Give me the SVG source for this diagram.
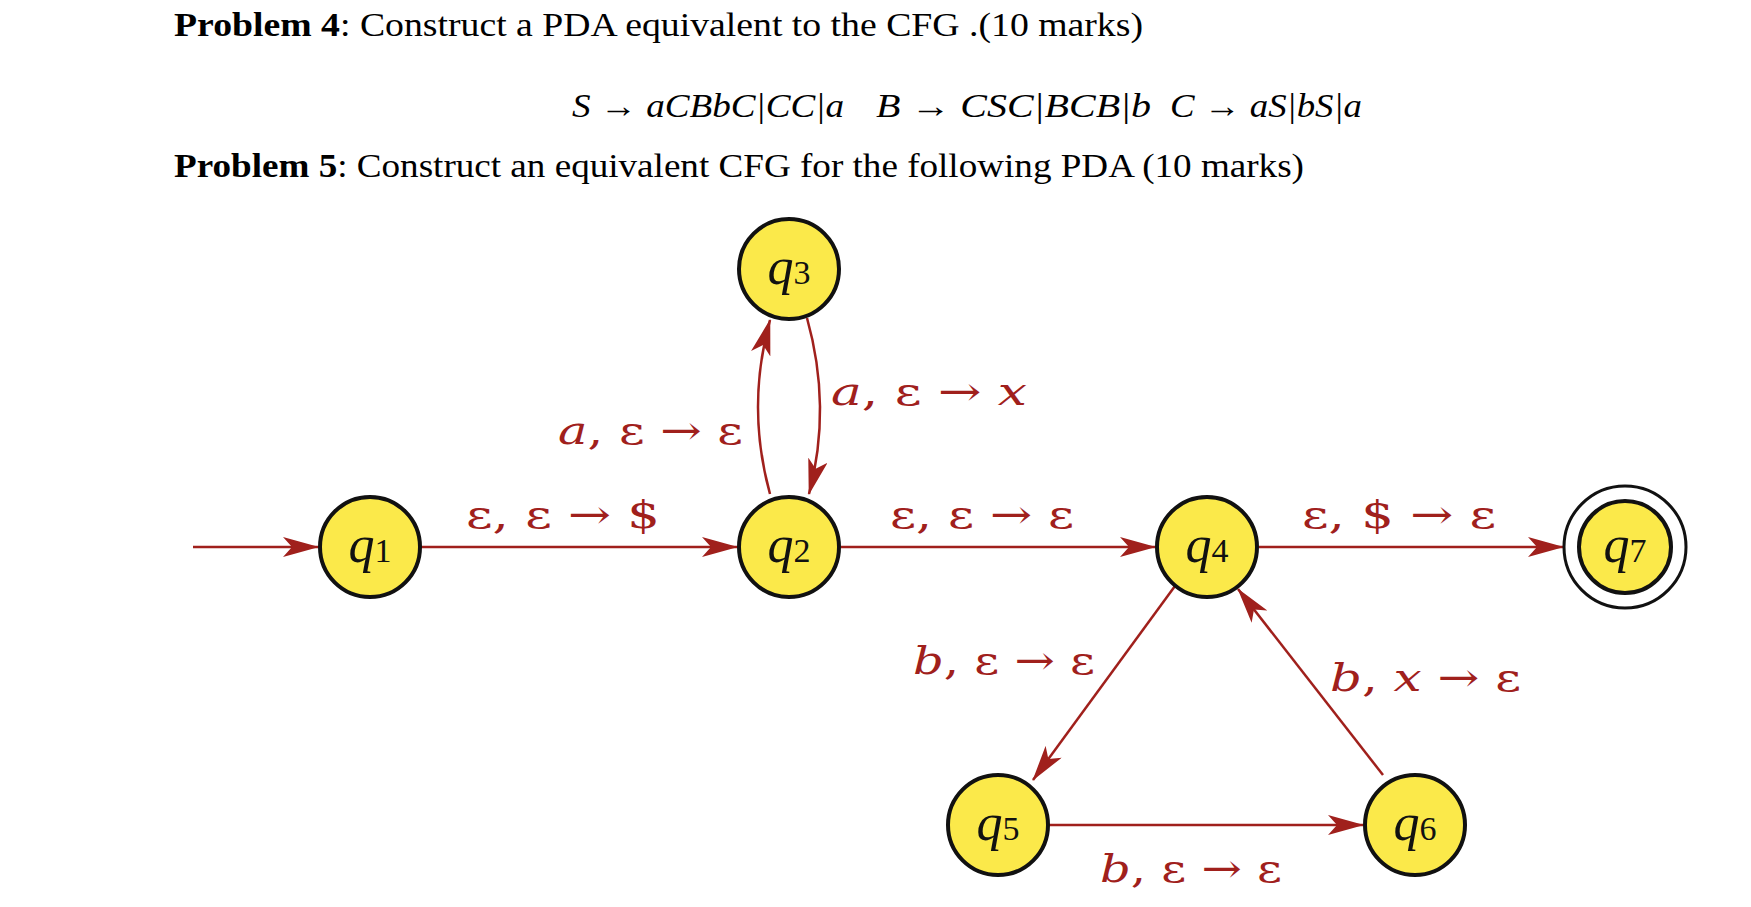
<svg xmlns="http://www.w3.org/2000/svg" width="1751" height="907" viewBox="0 0 1751 907">
<style>
.h{font-family:"Liberation Serif",serif;font-size:33px;fill:#000}
.n circle{fill:#fbe94a;stroke:#111;stroke-width:4}
.n text{font-family:"Liberation Serif",serif;font-style:italic;font-size:52px;fill:#111;text-anchor:middle}
.e{stroke:#a0201c;stroke-width:2.5;fill:none;marker-end:url(#ah)}
.l{font-family:"DejaVu Serif",serif;font-size:40px;fill:#a0201c}
</style>
<defs><marker id="ah" viewBox="0 0 36 20" refX="35" refY="10" markerWidth="36" markerHeight="20" markerUnits="userSpaceOnUse" orient="auto"><path d="M0,0 L36,10 L0,20 L9,10 Z" fill="#a0201c"/></marker></defs>
<rect width="1751" height="907" fill="#fff"/>
<text class="h" x="174" y="36" textLength="969" lengthAdjust="spacingAndGlyphs"><tspan font-weight="bold">Problem 4</tspan>: Construct a PDA equivalent to the CFG .(10 marks)</text>
<g class="h" font-style="italic">
<text class="h" x="572" y="117" textLength="272" lengthAdjust="spacingAndGlyphs">S → aCBbC|CC|a</text>
<text class="h" x="876" y="117" textLength="275" lengthAdjust="spacingAndGlyphs">B → CSC|BCB|b</text>
<text class="h" x="1170" y="117" textLength="192" lengthAdjust="spacingAndGlyphs">C → aS|bS|a</text>
</g>
<text class="h" x="174" y="177" textLength="1130" lengthAdjust="spacingAndGlyphs"><tspan font-weight="bold">Problem 5</tspan>: Construct an equivalent CFG for the following PDA (10 marks)</text>
<g id="edges">
<path class="e" d="M193,547 L318,547"/>
<path class="e" d="M421,547 L737,547"/>
<path class="e" d="M770,494 Q746,407 770,320"/>
<path class="e" d="M807,318 Q832,407 809,494"/>
<path class="e" d="M841,547 L1155,547"/>
<path class="e" d="M1259,547 L1563,547"/>
<path class="e" d="M1175,586 L1033,780"/>
<path class="e" d="M1383,775 L1238,589"/>
<path class="e" d="M1049,825 L1363,825"/>
</g>
<g id="labels">
<text class="l" x="466" y="528" textLength="194" lengthAdjust="spacingAndGlyphs">ε, ε → $</text>
<text class="l" x="558" y="444" textLength="185" lengthAdjust="spacingAndGlyphs"><tspan font-style="italic">a</tspan>, ε → ε</text>
<text class="l" x="831" y="405" textLength="196" lengthAdjust="spacingAndGlyphs"><tspan font-style="italic">a</tspan>, ε → <tspan font-style="italic">x</tspan></text>
<text class="l" x="890" y="528" textLength="184" lengthAdjust="spacingAndGlyphs">ε, ε → ε</text>
<text class="l" x="1302" y="528" textLength="194" lengthAdjust="spacingAndGlyphs">ε, $ → ε</text>
<text class="l" x="913" y="674" textLength="182" lengthAdjust="spacingAndGlyphs"><tspan font-style="italic">b</tspan>, ε → ε</text>
<text class="l" x="1330" y="691" textLength="191" lengthAdjust="spacingAndGlyphs"><tspan font-style="italic">b</tspan>, <tspan font-style="italic">x</tspan> → ε</text>
<text class="l" x="1100" y="882" textLength="182" lengthAdjust="spacingAndGlyphs"><tspan font-style="italic">b</tspan>, ε → ε</text>
</g>
<g id="q1" class="n"><circle cx="370" cy="547" r="50"/><text x="370" y="562">q<tspan font-size="34" font-style="normal">1</tspan></text></g>
<g id="q2" class="n"><circle cx="789" cy="547" r="50"/><text x="789" y="562">q<tspan font-size="34" font-style="normal">2</tspan></text></g>
<g id="q3" class="n"><circle cx="789" cy="269" r="50"/><text x="789" y="284">q<tspan font-size="34" font-style="normal">3</tspan></text></g>
<g id="q4" class="n"><circle cx="1207" cy="547" r="50"/><text x="1207" y="562">q<tspan font-size="34" font-style="normal">4</tspan></text></g>
<g id="q5" class="n"><circle cx="998" cy="825" r="50"/><text x="998" y="840">q<tspan font-size="34" font-style="normal">5</tspan></text></g>
<g id="q6" class="n"><circle cx="1415" cy="825" r="50"/><text x="1415" y="840">q<tspan font-size="34" font-style="normal">6</tspan></text></g>
<g id="q7" class="n"><circle cx="1625" cy="547" r="61" style="fill:#fff;stroke-width:3"/><circle cx="1625" cy="547" r="46"/><text x="1625" y="562">q<tspan font-size="34" font-style="normal">7</tspan></text></g>
</svg>
